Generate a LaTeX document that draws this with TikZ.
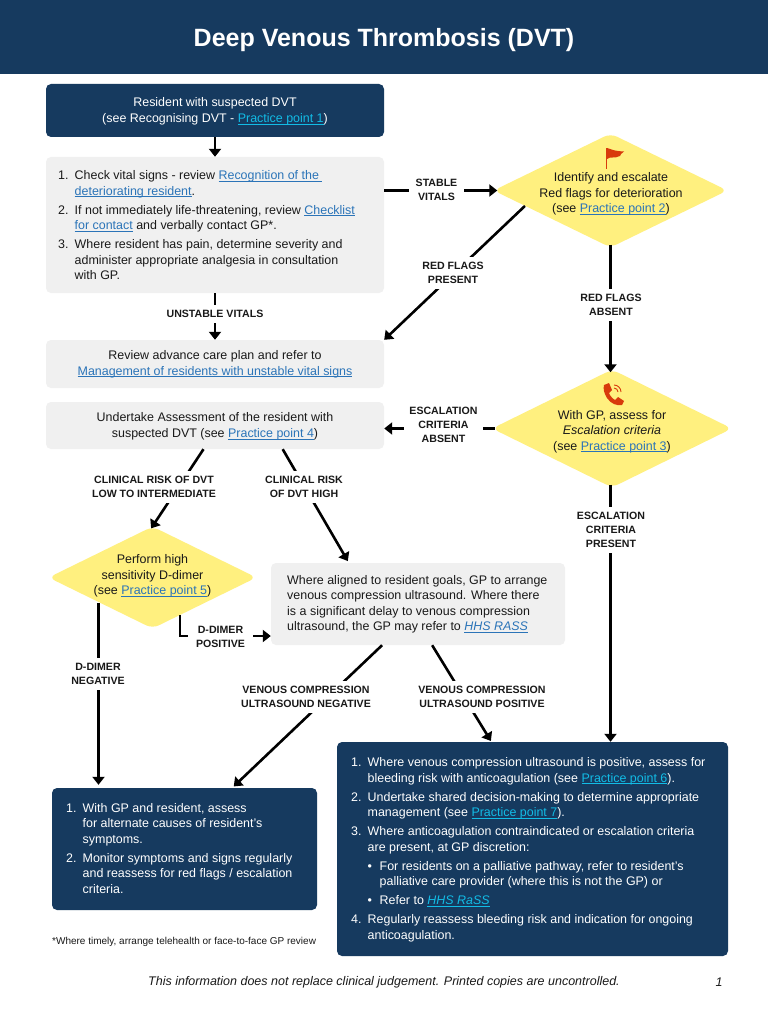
\documentclass[tikz,border=0pt]{standalone}
\usepackage{fontspec}
\setmainfont{Liberation Sans}
\usetikzlibrary{shapes.geometric,arrows.meta,calc}
\definecolor{navy}{HTML}{163A5F}
\definecolor{paleg}{HTML}{F0F0F0}
\definecolor{yell}{HTML}{FFF07F}
\definecolor{lnk}{HTML}{2B74B8}
\definecolor{lnkd}{HTML}{12BCE6}
\definecolor{redi}{HTML}{D83A0C}
\newcommand{\lk}[1]{\textcolor{lnk}{\underline{\smash{#1}}}}
\newcommand{\lkd}[1]{\textcolor{lnkd}{\underline{\smash{#1}}}}
\newcommand{\nm}[1]{\makebox[16.5pt][l]{#1}}
\newcommand{\ind}{\hspace*{16.5pt}}
\newcommand{\bul}{\hspace*{16.5pt}\makebox[12pt][l]{•}}
\newcommand{\indb}{\hspace*{28.5pt}}
\tikzset{
 navybox/.style={rectangle,rounded corners=5pt,fill=navy,text=white,inner sep=0pt},
 greybox/.style={rectangle,rounded corners=5pt,fill=paleg,text=black!90,inner sep=0pt},
 txt/.style={font=\fontsize{12.45}{15.5}\selectfont,inner sep=0pt},
 dia/.style={diamond,fill=yell,rounded corners=7pt,inner sep=0pt,aspect=2},
 lab/.style={font=\fontsize{10.6}{14}\selectfont\bfseries,align=center,fill=white,inner xsep=5pt,inner ysep=5pt,outer sep=0pt,text=black!90},
 conn/.style={line width=2.6pt,draw=black,-{Triangle[length=8pt,width=12pt]}},
}
\begin{document}
\begin{tikzpicture}[x=1pt,y=-1pt]
\useasboundingbox (0,0) rectangle (768,1024);
\fill[white] (0,0) rectangle (768,1024);
% header
\node[rectangle,fill=navy,minimum width=768pt,minimum height=74pt,inner sep=0pt] (hdr) at (384,37) {};
\node[inner sep=0pt,text=white,font=\fontsize{25}{28}\selectfont\bfseries] (title) at (384,40.5) {Deep Venous Thrombosis (DVT)};
% boxes
\node[navybox,minimum width=338pt,minimum height=53pt] (b1) at (215,110.5) {};
\node[greybox,minimum width=338pt,minimum height=136pt] (b2) at (215,225) {};
\node[greybox,minimum width=338pt,minimum height=48pt] (b3) at (215,364) {};
\node[greybox,minimum width=338pt,minimum height=47pt] (b4) at (215,425.5) {};
\node[greybox,minimum width=294pt,minimum height=82pt] (b5) at (418,604) {};
\node[navybox,minimum width=265pt,minimum height=122pt] (b6) at (184.5,849) {};
\node[navybox,minimum width=391pt,minimum height=214pt] (b7) at (532.5,849) {};
\node[dia,minimum width=234pt,minimum height=114pt] (d1) at (610.5,190.5) {};
\node[dia,minimum width=240pt,minimum height=118pt] (d2) at (612,428.5) {};
\node[dia,minimum width=208pt,minimum height=102pt] (d3) at (152.5,577.5) {};
% connectors
\coordinate (c1) at ($(d1.west)!0.27!(d1.south)$);
\coordinate (c2) at ($(b4.south west)!0.466!(b4.south east)$);
\coordinate (c3) at ($(b4.south west)!0.70!(b4.south east)$);
\coordinate (c4) at ($(b5.south west)!0.378!(b5.south east)$);
\coordinate (c5) at ($(b5.south west)!0.548!(b5.south east)$);
\coordinate (c6) at ($(b6.north west)!0.68!(b6.north east)$);
\coordinate (c7) at ($(b7.north west)!0.395!(b7.north east)$);
\coordinate (c9) at ($(b5.north west)!0.265!(b5.north east)$);
\coordinate (c10) at (98.5,603);
\coordinate (c11) at (180,615);
\coordinate (c12) at (b5.west |- 0,636);
\draw[conn] (b1.south) -- (b2.north);
\draw[conn] (b2.south) -- (b3.north);
\draw[conn,shorten >=-4pt] (b2.east |- d1.west) -- (d1.west);
\draw[conn] (c1) -- (b3.north east);
\draw[conn,shorten >=-3pt,shorten <=-3pt] (d1.south) -- (d1.south |- d2.north);
\draw[conn,shorten <=-3pt] (d2.west) -- (b4.east |- d2.west);
\draw[conn,shorten <=-3pt] (d2.south -| d1.south) -- (b7.north -| d1.south);
\draw[conn,shorten >=-2.5pt] (c2) -- (d3.north);
\draw[conn,shorten >=2pt] (c3) -- (c9);
\draw[conn,shorten >=3pt] (c10) -- (c10 |- b6.north);
\draw[conn] (c11) |- (c12);
\draw[conn,shorten >=2pt] (c4) -- (c6);
\draw[conn,shorten >=1pt] (c5) -- (c7);
% labels
\node[lab,minimum width=55pt] (l1) at (436.5,190) {STABLE\\VITALS};
\node[lab] (l2) at (215,314) {UNSTABLE VITALS};
\node[lab] (l3) at (453,273) {RED FLAGS\\PRESENT};
\node[lab] (l4) at (611,305) {RED FLAGS\\ABSENT};
\node[lab,minimum width=77pt] (l5) at (443.5,425) {ESCALATION\\CRITERIA\\ABSENT};
\node[lab] (l6) at (611,530) {ESCALATION\\CRITERIA\\PRESENT};
\node[lab] (l7) at (154,487) {CLINICAL RISK OF DVT\\LOW TO INTERMEDIATE};
\node[lab] (l8) at (304,487) {CLINICAL RISK\\OF DVT HIGH};
\node[lab,minimum width=65pt] (l9) at (220.5,637) {D-DIMER\\POSITIVE};
\node[lab] (l10) at (98,674) {D-DIMER\\NEGATIVE};
\node[lab] (l11) at (306,697) {VENOUS COMPRESSION\\ULTRASOUND NEGATIVE};
\node[lab] (l12) at (482,697) {VENOUS COMPRESSION\\ULTRASOUND POSITIVE};
% texts
\node[txt,align=center,text=white] (t1) at (215,111.5) {Resident with suspected DVT\\(see Recognising DVT - \lkd{Practice point 1})};
\node[txt,align=left,anchor=north west,text=black!90] (t2) at (58,170.5) {\nm{1.}Check vital signs - review \lk{Recognition of the }\\\ind\lk{deteriorating resident}.\\[3.5pt]
\nm{2.}If not immediately life-threatening, review \lk{Checklist}\\\ind\lk{for contact} and verbally contact GP*.\\[3.5pt]
\nm{3.}Where resident has pain, determine severity and\\\ind administer appropriate analgesia in consultation\\\ind with GP.};
\node[txt,align=center,text=black!90] (t3) at (b3) {Review advance care plan and refer to\\\lk{Management of residents with unstable vital signs}};
\node[txt,align=center,text=black!90] (t4) at (215,426.5) {Undertake Assessment of the resident with\\suspected DVT (see \lk{Practice point 4})};
\node[txt,align=left,anchor=north west,text=black!90] (t5) at (287,575) {Where aligned to resident goals, GP to arrange\\venous compression ultrasound. Where there\\is a significant delay to venous compression\\ultrasound, the GP may refer to \lk{\itshape HHS RASS}};
\node[txt,align=left,anchor=north west,text=white] (t6) at (66,803) {\nm{1.}With GP and resident, assess\\\ind for alternate causes of resident’s\\\ind symptoms.\\[3.5pt]
\nm{2.}Monitor symptoms and signs regularly\\\ind and reassess for red flags / escalation\\\ind criteria.};
\node[txt,align=left,anchor=north west,text=white] (t7) at (351,757.5) {\nm{1.}Where venous compression ultrasound is positive, assess for\\\ind bleeding risk with anticoagulation (see \lkd{Practice point 6}).\\[3.5pt]
\nm{2.}Undertake shared decision-making to determine appropriate\\\ind management (see \lkd{Practice point 7}).\\[3.5pt]
\nm{3.}Where anticoagulation contraindicated or escalation criteria\\\ind are present, at GP discretion:\\[3.5pt]
\bul For residents on a palliative pathway, refer to resident’s\\\indb palliative care provider (where this is not the GP) or\\[3.5pt]
\bul Refer to \lkd{\itshape HHS RaSS}\\[3.5pt]
\nm{4.}Regularly reassess bleeding risk and indication for ongoing\\\ind anticoagulation.};
\node[txt,align=center,text=black!90] (t8) at (611,194) {Identify and escalate\\Red flags for deterioration\\(see \lk{Practice point 2})};
\node[txt,align=center,text=black!90] (t9) at (612,431.5) {With GP, assess for\\\textit{Escalation criteria}\\(see \lk{Practice point 3})};
\node[txt,align=center,text=black!90] (t10) at (152.5,576) {Perform high\\sensitivity D-dimer\\(see \lk{Practice point 5})};
\node[inner sep=0pt,anchor=west,font=\fontsize{10}{12}\selectfont,text=black!90] (t11) at (52,942) {*Where timely, arrange telehealth or face-to-face GP review};
\node[inner sep=0pt,font=\fontsize{12.5}{14}\selectfont\itshape,text=black!90] (t12) at (384,982) {This information does not replace clinical judgement. Printed copies are uncontrolled.};
\node[inner sep=0pt,font=\fontsize{12.5}{14}\selectfont\itshape,text=black!90] (t13) at (719,982) {1};
% flag
\fill[redi] (605.5,148) rectangle (607,169);
\fill[redi] (607,148) .. controls (611,149) and (613,151) .. (624,151.5) .. controls (621,154) and (620,155) .. (620,156) .. controls (614,159) and (611,156) .. (607,159) -- cycle;
% phone
\fill[redi] (604,385) -- (609,383) -- (612,390) -- (609,393) .. controls (610,396) and (613,399) .. (615,400) -- (618,397) -- (624,401) -- (622,405) .. controls (617,406) and (611,404) .. (607,398) .. controls (604,393) and (603,389) .. (604,385) -- cycle;
\draw[redi,line width=0.9pt] (614,388) arc[start angle=90,end angle=0,radius=4pt];
\draw[redi,line width=0.9pt] (614,385) arc[start angle=90,end angle=0,radius=7pt];
\end{tikzpicture}
\end{document}
